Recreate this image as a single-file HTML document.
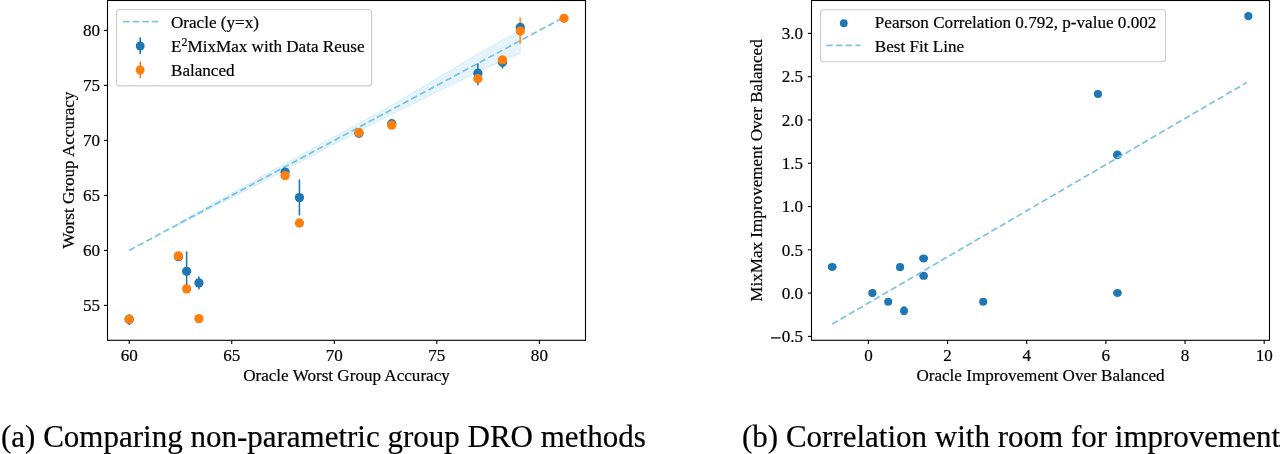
<!DOCTYPE html>
<html><head><meta charset="utf-8"><style>
html,body{margin:0;padding:0;background:#fff;width:1282px;height:454px;overflow:hidden;position:relative}
text{stroke:#000;stroke-width:0.2px}
</style></head><body>
<svg width="1282" height="454" viewBox="0 0 1282 454" style="position:absolute;left:0;top:0;will-change:transform">
<rect width="1282" height="454" fill="#fff"/>
<g font-family="Liberation Serif, serif" font-size="17.1" fill="#000">
<polygon points="178.42,222.68 285.08,163.50 358.91,123.24 391.73,105.20 477.87,54.05 502.48,40.08 520.30,29.74 520.30,52.95 502.48,60.98 477.87,71.98 391.73,114.22 358.91,131.16 285.08,170.10 178.42,225.32" fill="#87ceeb" fill-opacity="0.22" stroke="#87ceeb" stroke-opacity="0.35" stroke-width="0.8"/>
<line x1="129.20" y1="250.40" x2="564.01" y2="17.20" stroke="#7fc2e0" stroke-width="1.75" stroke-dasharray="6.5 3.2"/>
<line x1="520.30" y1="17.40" x2="520.30" y2="43.60" stroke="#ff7f0e" stroke-opacity="0.8" stroke-width="2"/>
<line x1="129.20" y1="314.20" x2="129.20" y2="325.00" stroke="#1f77b4" stroke-width="1.6"/>
<circle cx="129.20" cy="319.48" r="4.65" fill="#1f77b4"/>
<circle cx="178.42" cy="256.67" r="4.65" fill="#1f77b4"/>
<line x1="186.63" y1="251.50" x2="186.63" y2="285.00" stroke="#1f77b4" stroke-width="1.6"/>
<circle cx="186.63" cy="271.30" r="4.65" fill="#1f77b4"/>
<line x1="198.93" y1="276.50" x2="198.93" y2="289.20" stroke="#1f77b4" stroke-width="1.6"/>
<circle cx="198.93" cy="282.85" r="4.65" fill="#1f77b4"/>
<circle cx="285.08" cy="172.08" r="4.65" fill="#1f77b4"/>
<line x1="299.43" y1="179.40" x2="299.43" y2="215.50" stroke="#1f77b4" stroke-width="1.6"/>
<circle cx="299.43" cy="197.60" r="4.65" fill="#1f77b4"/>
<circle cx="358.91" cy="133.25" r="4.65" fill="#1f77b4"/>
<circle cx="391.73" cy="123.68" r="4.65" fill="#1f77b4"/>
<line x1="477.87" y1="63.60" x2="477.87" y2="85.20" stroke="#1f77b4" stroke-width="1.6"/>
<circle cx="477.87" cy="73.19" r="4.65" fill="#1f77b4"/>
<line x1="502.48" y1="62.30" x2="502.48" y2="68.50" stroke="#1f77b4" stroke-width="1.6"/>
<circle cx="502.48" cy="62.30" r="4.65" fill="#1f77b4"/>
<circle cx="520.30" cy="27.43" r="4.65" fill="#1f77b4"/>
<circle cx="129.20" cy="319.15" r="4.65" fill="#ff7f0e"/>
<circle cx="178.42" cy="255.90" r="4.65" fill="#ff7f0e"/>
<circle cx="186.63" cy="288.90" r="4.65" fill="#ff7f0e"/>
<circle cx="198.93" cy="318.60" r="4.65" fill="#ff7f0e"/>
<circle cx="285.08" cy="175.60" r="4.65" fill="#ff7f0e"/>
<circle cx="299.43" cy="223.01" r="4.65" fill="#ff7f0e"/>
<circle cx="358.91" cy="132.48" r="4.65" fill="#ff7f0e"/>
<circle cx="391.73" cy="125.11" r="4.65" fill="#ff7f0e"/>
<circle cx="477.87" cy="78.69" r="4.65" fill="#ff7f0e"/>
<circle cx="502.48" cy="59.88" r="4.65" fill="#ff7f0e"/>
<circle cx="520.30" cy="31.06" r="4.65" fill="#ff7f0e"/>
<circle cx="564.01" cy="18.30" r="4.65" fill="#ff7f0e"/>
<rect x="107.5" y="0.5" width="478.0" height="339.8" fill="none" stroke="#000" stroke-width="1.1"/>
<line x1="129.20" y1="340.3" x2="129.20" y2="343.90000000000003" stroke="#000" stroke-width="1.1"/>
<text x="129.20" y="360.6" text-anchor="middle">60</text>
<line x1="231.75" y1="340.3" x2="231.75" y2="343.90000000000003" stroke="#000" stroke-width="1.1"/>
<text x="231.75" y="360.6" text-anchor="middle">65</text>
<line x1="334.30" y1="340.3" x2="334.30" y2="343.90000000000003" stroke="#000" stroke-width="1.1"/>
<text x="334.30" y="360.6" text-anchor="middle">70</text>
<line x1="436.85" y1="340.3" x2="436.85" y2="343.90000000000003" stroke="#000" stroke-width="1.1"/>
<text x="436.85" y="360.6" text-anchor="middle">75</text>
<line x1="539.40" y1="340.3" x2="539.40" y2="343.90000000000003" stroke="#000" stroke-width="1.1"/>
<text x="539.40" y="360.6" text-anchor="middle">80</text>
<line x1="103.9" y1="305.40" x2="107.5" y2="305.40" stroke="#000" stroke-width="1.1"/>
<text x="100" y="311.20" text-anchor="end">55</text>
<line x1="103.9" y1="250.40" x2="107.5" y2="250.40" stroke="#000" stroke-width="1.1"/>
<text x="100" y="256.20" text-anchor="end">60</text>
<line x1="103.9" y1="195.40" x2="107.5" y2="195.40" stroke="#000" stroke-width="1.1"/>
<text x="100" y="201.20" text-anchor="end">65</text>
<line x1="103.9" y1="140.40" x2="107.5" y2="140.40" stroke="#000" stroke-width="1.1"/>
<text x="100" y="146.20" text-anchor="end">70</text>
<line x1="103.9" y1="85.40" x2="107.5" y2="85.40" stroke="#000" stroke-width="1.1"/>
<text x="100" y="91.20" text-anchor="end">75</text>
<line x1="103.9" y1="30.40" x2="107.5" y2="30.40" stroke="#000" stroke-width="1.1"/>
<text x="100" y="36.20" text-anchor="end">80</text>
<text x="346.50" y="380.7" text-anchor="middle">Oracle Worst Group Accuracy</text>
<text transform="translate(74,170.2) rotate(-90)" text-anchor="middle">Worst Group Accuracy</text>
<rect x="116.6" y="9.5" width="255" height="76.4" rx="3" ry="3" fill="#fff" fill-opacity="0.8" stroke="#cccccc" stroke-width="1.1"/>
<line x1="123" y1="21.6" x2="158" y2="21.6" stroke="#7fc2e0" stroke-width="1.75" stroke-dasharray="6.5 3.2"/>
<text x="171" y="27.9">Oracle (y=x)</text>
<line x1="140.2" y1="37.6" x2="140.2" y2="54" stroke="#1f77b4" stroke-width="1.6"/>
<circle cx="140.2" cy="46" r="4.45" fill="#1f77b4"/>
<text x="171" y="52.1">E<tspan font-size="12.0" dy="-6.5">2</tspan><tspan dy="6.5">MixMax with Data Reuse</tspan></text>
<line x1="140.2" y1="61.6" x2="140.2" y2="78" stroke="#ff7f0e" stroke-width="1.6"/>
<circle cx="140.2" cy="70" r="4.45" fill="#ff7f0e"/>
<text x="171" y="76.2">Balanced</text>
<ellipse cx="832.18" cy="266.93" rx="4.5" ry="4.05" fill="#1f77b4"/>
<ellipse cx="872.36" cy="293.10" rx="4.05" ry="4.05" fill="#1f77b4"/>
<ellipse cx="888.19" cy="301.76" rx="4.05" ry="4.05" fill="#1f77b4"/>
<ellipse cx="900.06" cy="267.13" rx="4.05" ry="4.05" fill="#1f77b4"/>
<ellipse cx="904.02" cy="310.81" rx="4.05" ry="4.5" fill="#1f77b4"/>
<ellipse cx="923.61" cy="258.47" rx="4.5" ry="4.05" fill="#1f77b4"/>
<ellipse cx="923.61" cy="275.79" rx="4.4" ry="4.05" fill="#1f77b4"/>
<ellipse cx="983.18" cy="301.76" rx="4.05" ry="4.05" fill="#1f77b4"/>
<ellipse cx="1097.96" cy="93.99" rx="4.05" ry="4.05" fill="#1f77b4"/>
<ellipse cx="1117.35" cy="154.79" rx="4.4" ry="4.4" fill="#1f77b4"/>
<ellipse cx="1117.45" cy="293.00" rx="4.4" ry="4.0" fill="#1f77b4"/>
<ellipse cx="1248.37" cy="16.08" rx="4.05" ry="4.05" fill="#1f77b4"/>
<line x1="832.2" y1="324.1" x2="1246.6" y2="82.6" stroke="#7fc2e0" stroke-width="1.7" stroke-dasharray="6.5 3.2"/>
<rect x="811.5" y="0.5" width="458.0" height="339.8" fill="none" stroke="#000" stroke-width="1.1"/>
<line x1="868.40" y1="340.3" x2="868.40" y2="343.90000000000003" stroke="#000" stroke-width="1.1"/>
<text x="868.40" y="360.6" text-anchor="middle">0</text>
<line x1="947.56" y1="340.3" x2="947.56" y2="343.90000000000003" stroke="#000" stroke-width="1.1"/>
<text x="947.56" y="360.6" text-anchor="middle">2</text>
<line x1="1026.72" y1="340.3" x2="1026.72" y2="343.90000000000003" stroke="#000" stroke-width="1.1"/>
<text x="1026.72" y="360.6" text-anchor="middle">4</text>
<line x1="1105.88" y1="340.3" x2="1105.88" y2="343.90000000000003" stroke="#000" stroke-width="1.1"/>
<text x="1105.88" y="360.6" text-anchor="middle">6</text>
<line x1="1185.04" y1="340.3" x2="1185.04" y2="343.90000000000003" stroke="#000" stroke-width="1.1"/>
<text x="1185.04" y="360.6" text-anchor="middle">8</text>
<line x1="1264.20" y1="340.3" x2="1264.20" y2="343.90000000000003" stroke="#000" stroke-width="1.1"/>
<text x="1264.20" y="360.6" text-anchor="middle">10</text>
<line x1="807.9" y1="336.38" x2="811.5" y2="336.38" stroke="#000" stroke-width="1.1"/>
<text x="803" y="342.19" text-anchor="end">0.5</text>
<rect x="771" y="337.28" width="9.6" height="1.25" fill="#000"/>
<line x1="807.9" y1="293.10" x2="811.5" y2="293.10" stroke="#000" stroke-width="1.1"/>
<text x="803" y="298.90" text-anchor="end">0.0</text>
<line x1="807.9" y1="249.82" x2="811.5" y2="249.82" stroke="#000" stroke-width="1.1"/>
<text x="803" y="255.62" text-anchor="end">0.5</text>
<line x1="807.9" y1="206.53" x2="811.5" y2="206.53" stroke="#000" stroke-width="1.1"/>
<text x="803" y="212.33" text-anchor="end">1.0</text>
<line x1="807.9" y1="163.25" x2="811.5" y2="163.25" stroke="#000" stroke-width="1.1"/>
<text x="803" y="169.05" text-anchor="end">1.5</text>
<line x1="807.9" y1="119.96" x2="811.5" y2="119.96" stroke="#000" stroke-width="1.1"/>
<text x="803" y="125.76" text-anchor="end">2.0</text>
<line x1="807.9" y1="76.68" x2="811.5" y2="76.68" stroke="#000" stroke-width="1.1"/>
<text x="803" y="82.48" text-anchor="end">2.5</text>
<line x1="807.9" y1="33.39" x2="811.5" y2="33.39" stroke="#000" stroke-width="1.1"/>
<text x="803" y="39.19" text-anchor="end">3.0</text>
<text x="1040.50" y="380.9" text-anchor="middle">Oracle Improvement Over Balanced</text>
<text transform="translate(761.5,170.5) rotate(-90)" text-anchor="middle">MixMax Improvement Over Balanced</text>
<rect x="820.6" y="9.8" width="344.9" height="52" rx="3" ry="3" fill="#fff" fill-opacity="0.8" stroke="#cccccc" stroke-width="1.1"/>
<circle cx="843.8" cy="23.2" r="3.9" fill="#1f77b4"/>
<text x="874.8" y="27.9">Pearson Correlation 0.792, p-value 0.002</text>
<line x1="826.2" y1="45.3" x2="860.5" y2="45.3" stroke="#7fc2e0" stroke-width="1.75" stroke-dasharray="6.5 3.2"/>
<text x="874.8" y="51.6">Best Fit Line</text>
<text x="1" y="447.3" font-size="31">(a) Comparing non-parametric group DRO methods</text>
<text x="742" y="447.0" font-size="31">(b) Correlation with room for improvement</text>
</g></svg>
</body></html>
